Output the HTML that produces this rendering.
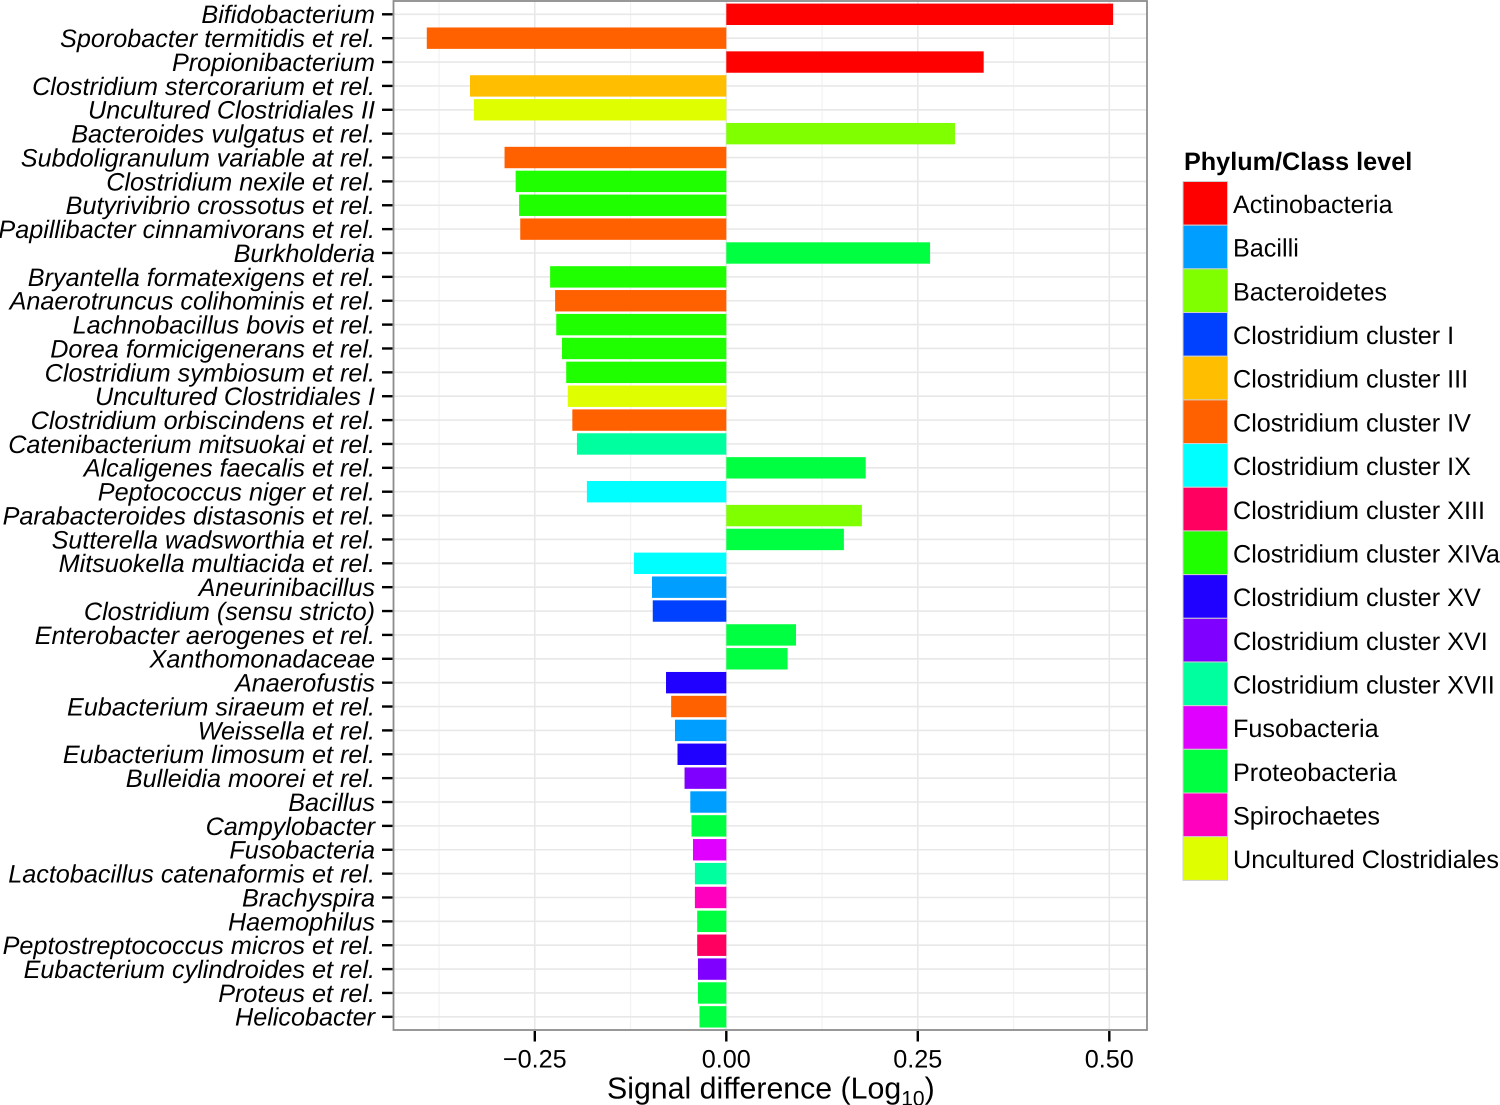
<!DOCTYPE html>
<html lang="en">
<head>
<meta charset="utf-8">
<title>Signal difference by bacterial group</title>
<style>
html,body{margin:0;padding:0;background:#fff;}
svg{display:block;font-family:"Liberation Sans",Arial,sans-serif;text-rendering:geometricPrecision;}
</style>
</head>
<body>
<svg id="chart" xmlns="http://www.w3.org/2000/svg" width="1500" height="1105" viewBox="0 0 1500 1105"></svg>
<script>
const categories = ["Bifidobacterium","Sporobacter termitidis et rel.","Propionibacterium","Clostridium stercorarium et rel.","Uncultured Clostridiales II","Bacteroides vulgatus et rel.","Subdoligranulum variable at rel.","Clostridium nexile et rel.","Butyrivibrio crossotus et rel.","Papillibacter cinnamivorans et rel.","Burkholderia","Bryantella formatexigens et rel.","Anaerotruncus colihominis et rel.","Lachnobacillus bovis et rel.","Dorea formicigenerans et rel.","Clostridium symbiosum et rel.","Uncultured Clostridiales I","Clostridium orbiscindens et rel.","Catenibacterium mitsuokai et rel.","Alcaligenes faecalis et rel.","Peptococcus niger et rel.","Parabacteroides distasonis et rel.","Sutterella wadsworthia et rel.","Mitsuokella multiacida et rel.","Aneurinibacillus","Clostridium (sensu stricto)","Enterobacter aerogenes et rel.","Xanthomonadaceae","Anaerofustis","Eubacterium siraeum et rel.","Weissella et rel.","Eubacterium limosum et rel.","Bulleidia moorei et rel.","Bacillus","Campylobacter","Fusobacteria","Lactobacillus catenaformis et rel.","Brachyspira","Haemophilus","Peptostreptococcus micros et rel.","Eubacterium cylindroides et rel.","Proteus et rel.","Helicobacter"];
const signalValues = [0.505,-0.391,0.336,-0.3346,-0.3295,0.2985,-0.2895,-0.275,-0.2705,-0.269,0.266,-0.23,-0.2235,-0.222,-0.2145,-0.209,-0.207,-0.201,-0.195,0.182,-0.182,0.177,0.1535,-0.1205,-0.097,-0.096,0.091,0.08,-0.0787,-0.072,-0.067,-0.0637,-0.0545,-0.047,-0.0454,-0.0435,-0.041,-0.041,-0.038,-0.038,-0.037,-0.037,-0.035];
const barGroups = ["Actinobacteria","Clostridium cluster IV","Actinobacteria","Clostridium cluster III","Uncultured Clostridiales","Bacteroidetes","Clostridium cluster IV","Clostridium cluster XIVa","Clostridium cluster XIVa","Clostridium cluster IV","Proteobacteria","Clostridium cluster XIVa","Clostridium cluster IV","Clostridium cluster XIVa","Clostridium cluster XIVa","Clostridium cluster XIVa","Uncultured Clostridiales","Clostridium cluster IV","Clostridium cluster XVII","Proteobacteria","Clostridium cluster IX","Bacteroidetes","Proteobacteria","Clostridium cluster IX","Bacilli","Clostridium cluster I","Proteobacteria","Proteobacteria","Clostridium cluster XV","Clostridium cluster IV","Bacilli","Clostridium cluster XV","Clostridium cluster XVI","Bacilli","Proteobacteria","Fusobacteria","Clostridium cluster XVII","Spirochaetes","Proteobacteria","Clostridium cluster XIII","Clostridium cluster XVI","Proteobacteria","Proteobacteria"];
const legendGroups = ["Actinobacteria","Bacilli","Bacteroidetes","Clostridium cluster I","Clostridium cluster III","Clostridium cluster IV","Clostridium cluster IX","Clostridium cluster XIII","Clostridium cluster XIVa","Clostridium cluster XV","Clostridium cluster XVI","Clostridium cluster XVII","Fusobacteria","Proteobacteria","Spirochaetes","Uncultured Clostridiales"];
const groupColors = ["#FF0000","#009FFF","#80FF00","#0040FF","#FFBF00","#FF6000","#00FFFF","#FF0060","#20FF00","#2000FF","#8000FF","#00FF9F","#DF00FF","#00FF40","#FF00BF","#DFFF00"];
const xTicks = [-0.25,0,0.25,0.5];
const xTickLabels = ["\u22120.25","0.00","0.25","0.50"];
const xMinorTicks = [-0.375,-0.125,0.125,0.375];

const svg = document.getElementById('chart');
const NS = 'http://www.w3.org/2000/svg';
const panel = {left:393.5, right:1147, top:1, bottom:1030};
function xScale(v){ return 726.3 + v*766; }
function yScale(i){ return 14.3 + i*23.87; }
function make(tag, attrs, parent){
  const el = document.createElementNS(NS, tag);
  for (const k in attrs) el.setAttribute(k, attrs[k]);
  (parent || svg).appendChild(el);
  return el;
}

// panel background
const bg = make('rect',{x:panel.left,y:panel.top,width:panel.right-panel.left,height:panel.bottom-panel.top,fill:'#fff'});



// gridlines
xMinorTicks.forEach(function(v){
  const g = make('line',{x1:xScale(v),x2:xScale(v),y1:panel.top,y2:panel.bottom,stroke:'#f2f2f2','stroke-width':1.2});
  
  
});
xTicks.forEach(function(v){
  const g = make('line',{x1:xScale(v),x2:xScale(v),y1:panel.top,y2:panel.bottom,stroke:'#e8e8e8','stroke-width':1.6});
  
  
});
categories.forEach(function(c,i){
  const g = make('line',{x1:panel.left,x2:panel.right,y1:yScale(i),y2:yScale(i),stroke:'#e8e8e8','stroke-width':1.6});
  
  
});

// bars
signalValues.forEach(function(v,i){
  const x0 = xScale(Math.min(v,0));
  const x1 = xScale(Math.max(v,0));
  const color = groupColors[legendGroups.indexOf(barGroups[i])];
  const b = make('rect',{x:x0,y:yScale(i)-10.7,width:x1-x0,height:21.4,fill:color});
  
  
});

// panel border
const border = make('rect',{x:panel.left,y:panel.top,width:panel.right-panel.left,height:panel.bottom-panel.top,fill:'none',stroke:'#8c8c8c','stroke-width':1.8});



// y axis
categories.forEach(function(c,i){
  const t = make('line',{x1:382,x2:392.5,y1:yScale(i),y2:yScale(i),stroke:'#000','stroke-width':2.4});
  
  
  const l = make('text',{x:375,y:yScale(i)+8.9,'text-anchor':'end','font-size':25.2,'font-style':'italic',fill:'#000'});
  l.textContent = c;
  
  
});

// x axis
xTicks.forEach(function(v,i){
  const t = make('line',{x1:xScale(v),x2:xScale(v),y1:1031,y2:1041.5,stroke:'#000','stroke-width':2.4});
  
  
  const l = make('text',{x:xScale(v),y:1067.5,'text-anchor':'middle','font-size':25.2,fill:'#000'});
  l.textContent = xTickLabels[i];
  
  
});

const xTitle = make('text',{x:607,y:1098.5,'font-size':30.3,fill:'#000'});


xTitle.appendChild(document.createTextNode('Signal difference (Log'));
const sub = make('tspan',{'font-size':21,dy:7},xTitle);
sub.textContent = '10';
const close = make('tspan',{dy:-7},xTitle);
close.textContent = ')';

// legend
const legendTitle = make('text',{x:1184,y:170,'font-size':25.2,'font-weight':'bold',fill:'#000'});
legendTitle.textContent = 'Phylum/Class level';


function legendY(i){ return 181.5 + i*43.68; }
legendGroups.forEach(function(g,i){
  const s = make('rect',{x:1183,y:legendY(i),width:44.5,height:43.68,fill:groupColors[i],stroke:'#cfcfcf','stroke-width':1});
  
  
  const l = make('text',{x:1233,y:legendY(i)+31.5,'font-size':25.2,fill:'#000'});
  l.textContent = g;
  
  
});
</script>
</body>
</html>
